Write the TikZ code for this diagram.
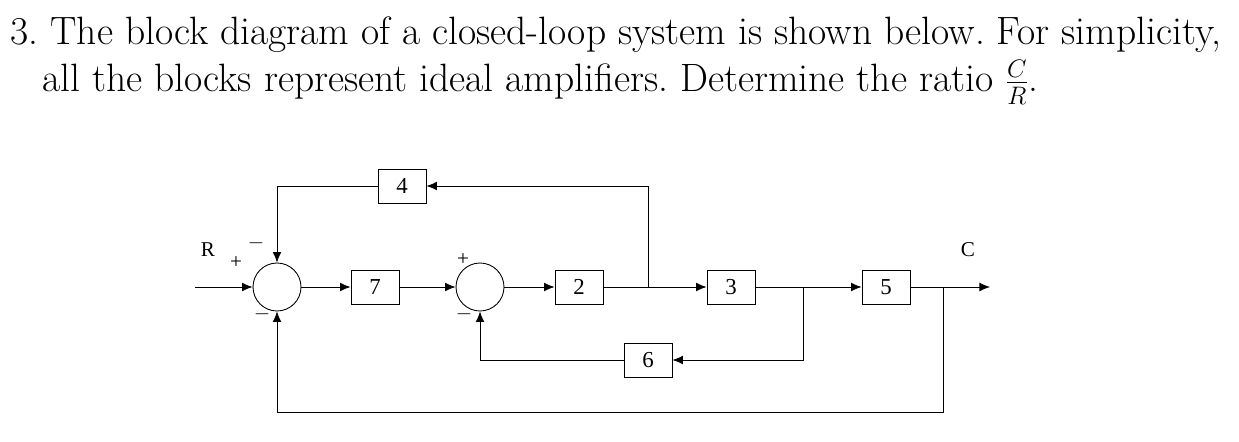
\documentclass[tikz,border=0pt]{standalone}
\usepackage{fontspec}
\newfontfamily\tms{Liberation Serif}
\usetikzlibrary{arrows.meta}
\begin{document}
\begin{tikzpicture}[x=0.02cm,y=-0.02cm,
  blk/.style={draw,minimum width=0.96cm,minimum height=0.68cm,inner sep=0pt,font=\fontsize{13}{14}\selectfont\tms},
  sum/.style={draw,circle,minimum size=0.96cm,inner sep=0pt},
  lbl/.style={font=\fontsize{12}{13}\selectfont\tms,inner sep=0pt},
  ar/.style={-{Latex[length=6pt,width=5pt]}},
  line width=0.5pt]
\useasboundingbox (0,0) rectangle (1239,442);
\node[anchor=west,font=\fontsize{22.5}{26}\selectfont,inner sep=0pt] (t1) at (10,35) {3.\ The block diagram of a closed-loop system is shown below.\ For simplicity,};
\node[anchor=west,font=\fontsize{22.5}{26}\selectfont,inner sep=0pt] (t2) at (42,82) {all the blocks represent ideal amplifiers.\ Determine the ratio $\frac{C}{R}$.};
\node[sum] (s1) at (277,287) {};
\node[sum] (s2) at (480,287) {};
\node[blk] (b7) at (375,287) {7};
\node[blk] (b2) at (579,287) {2};
\node[blk] (b3) at (731,287) {3};
\node[blk] (b5) at (886,287) {5};
\node[blk] (b4) at (402,186) {4};
\node[blk] (b6) at (648,360) {6};
\coordinate (in) at (195,287);
\coordinate (out) at (990,287);
\coordinate (p1) at (648,287);
\coordinate (p2) at (803,287);
\coordinate (p3) at (943,287);
\draw[ar] (in) -- (s1);
\draw[ar] (s1) -- (b7);
\draw[ar] (b7) -- (s2);
\draw[ar] (s2) -- (b2);
\draw[ar] (b2) -- (b3);
\draw[ar] (b3) -- (b5);
\draw[ar] (b5) -- (out);
\draw[ar] (p1) |- (b4);
\draw[ar] (b4) -| (s1);
\draw[ar] (p2) |- (b6);
\draw[ar] (b6) -| (s2);
\draw[ar] (p3) |- (277,412) -- (s1);
\node[lbl] (R) at (208,250) {R};
\node[lbl] (C) at (968,250) {C};
\node[lbl] (pa) at (236,263) {+};
\node[lbl] (ma) at (256,243) {$-$};
\node[lbl] (mb) at (262,314) {$-$};
\node[lbl] (pc) at (463,260) {+};
\node[lbl] (md) at (464,314) {$-$};
\end{tikzpicture}
\end{document}
